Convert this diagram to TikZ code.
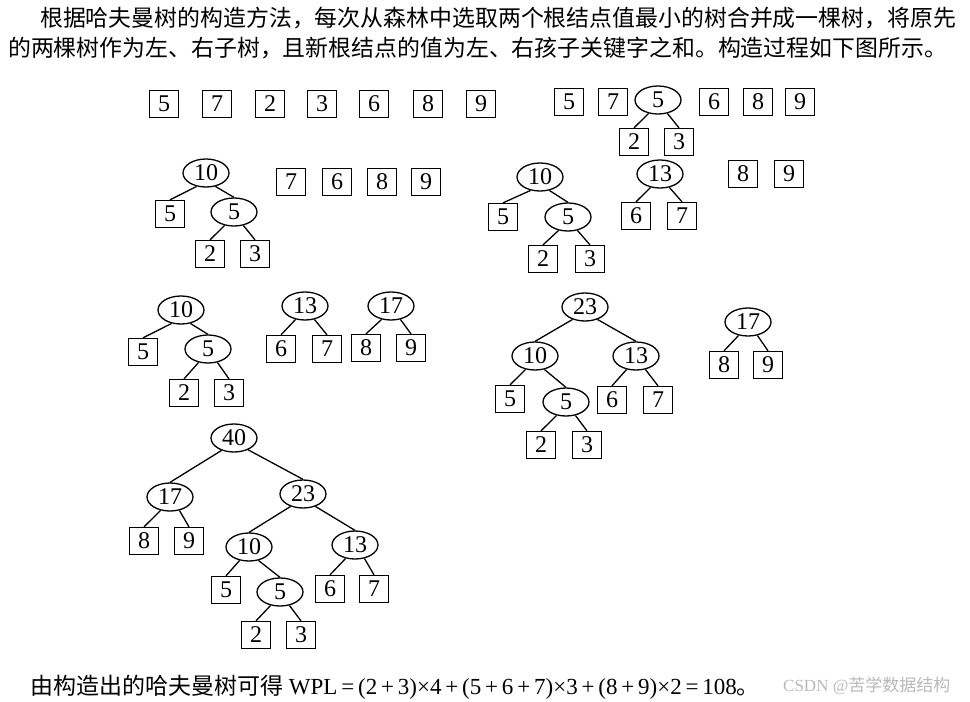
\documentclass[tikz,border=0pt]{standalone}
\usepackage{fontspec}
\usetikzlibrary{shapes.geometric}
\setmainfont{Liberation Serif}
\newfontfamily\cjk{Noto Sans CJK SC}
\begin{document}
\begin{tikzpicture}[x=1pt,y=-1pt,
  bx/.style={draw,line width=1.3pt,minimum width=29pt,minimum height=27pt,inner sep=0pt,font=\fontsize{24}{24}\selectfont},
  el/.style={draw,line width=1.3pt,ellipse,minimum width=46pt,minimum height=28pt,inner sep=0pt,font=\fontsize{24}{24}\selectfont},
  ed/.style={line width=1.3pt},
  txt/.style={anchor=west,inner sep=0pt,font=\fontsize{22.9}{24}\selectfont}]
\useasboundingbox (0,0) rectangle (970,702);
\node[txt] (t1) at (40,18) {\cjk 根据哈夫曼树的构造方法，每次从森林中选取两个根结点值最小的树合并成一棵树，将原先};
\node[txt] (t2) at (8,48) {\cjk 的两棵树作为左、右子树，且新根结点的值为左、右孩子关键字之和。构造过程如下图所示。};
\node[txt,font=\fontsize{23}{24}\selectfont] (t3) at (30,687) {{\cjk 由构造出的哈夫曼树可得} WPL\,=\,(2\,+\,3)×4\,+\,(5\,+\,6\,+\,7)×3\,+\,(8\,+\,9)×2\,=\,108{\cjk 。}};
\node[anchor=west,inner sep=0pt,text=gray!55,font=\fontsize{17}{18}\selectfont] (wm) at (783,686) {CSDN @{\cjk 苦学数据结构}};
% A
\foreach \x/\v [count=\i] in {164/5,217/7,270/2,322/3,374/6,428/8,481/9}
  \node[bx] (a\i) at (\x,104) {\v};
% B
\node[bx] (b1) at (569,102) {5};
\node[bx] (b2) at (613,102) {7};
\node[el] (b3) at (658,100) {5};
\node[bx] (b4) at (634,142) {2};
\node[bx] (b5) at (679,142) {3};
\node[bx] (b6) at (714,102) {6};
\node[bx] (b7) at (758,102) {8};
\node[bx] (b8) at (800,102) {9};
\draw[ed] (b3.-125)--(b4.north) (b3.-55)--(b5.north);
% C
\node[el] (c1) at (206,173) {10};
\node[bx] (c2) at (170,214) {5};
\node[el] (c3) at (234,212) {5};
\node[bx] (c4) at (210,254) {2};
\node[bx] (c5) at (255,254) {3};
\foreach \x/\v [count=\i] in {291/7,337/6,382/8,426/9}
  \node[bx] (cc\i) at (\x,182) {\v};
\draw[ed] (c1.-125)--(c2.north) (c1.-55)--(c3.north) (c3.-125)--(c4.north) (c3.-55)--(c5.north);
% D
\node[el] (d1) at (540,177) {10};
\node[bx] (d2) at (503,217) {5};
\node[el] (d3) at (568,217) {5};
\node[bx] (d4) at (543,259) {2};
\node[bx] (d5) at (590,259) {3};
\node[el] (d6) at (660,174) {13};
\node[bx] (d7) at (636,216) {6};
\node[bx] (d8) at (682,216) {7};
\node[bx] (d9) at (743,174) {8};
\node[bx] (d10) at (789,174) {9};
\draw[ed] (d1.-125)--(d2.north) (d1.-55)--(d3.north) (d3.-125)--(d4.north) (d3.-55)--(d5.north)
  (d6.-125)--(d7.north) (d6.-55)--(d8.north);
% E
\node[el] (e1) at (181,310) {10};
\node[bx] (e2) at (143,352) {5};
\node[el] (e3) at (208,349) {5};
\node[bx] (e4) at (184,393) {2};
\node[bx] (e5) at (229,393) {3};
\node[el] (e6) at (305,306) {13};
\node[bx] (e7) at (281,349) {6};
\node[bx] (e8) at (327,349) {7};
\node[el] (e9) at (391,306) {17};
\node[bx] (e10) at (366,348) {8};
\node[bx] (e11) at (411,348) {9};
\draw[ed] (e1.-125)--(e2.north) (e1.-55)--(e3.north) (e3.-125)--(e4.north) (e3.-55)--(e5.north)
  (e6.-125)--(e7.north) (e6.-55)--(e8.north) (e9.-125)--(e10.north) (e9.-55)--(e11.north);
% F
\node[el] (f1) at (585,307) {23};
\node[el] (f2) at (535,356) {10};
\node[el] (f3) at (636,356) {13};
\node[bx] (f4) at (510,399) {5};
\node[el] (f5) at (566,402) {5};
\node[bx] (f6) at (541,445) {2};
\node[bx] (f7) at (587,445) {3};
\node[bx] (f8) at (612,400) {6};
\node[bx] (f9) at (658,400) {7};
\node[el] (f10) at (748,322) {17};
\node[bx] (f11) at (724,365) {8};
\node[bx] (f12) at (768,365) {9};
\draw[ed] (f1.-135)--(f2.north) (f1.-45)--(f3.north) (f2.-125)--(f4.north) (f2.-55)--(f5.north)
  (f5.-125)--(f6.north) (f5.-55)--(f7.north) (f3.-125)--(f8.north) (f3.-55)--(f9.north)
  (f10.-125)--(f11.north) (f10.-55)--(f12.north);
% G
\node[el] (g1) at (234,438) {40};
\node[el] (g2) at (170,497) {17};
\node[el] (g3) at (303,494) {23};
\node[bx] (g4) at (144,541) {8};
\node[bx] (g5) at (189,541) {9};
\node[el] (g6) at (249,547) {10};
\node[el] (g7) at (355,545) {13};
\node[bx] (g8) at (226,590) {5};
\node[el] (g9) at (280,592) {5};
\node[bx] (g10) at (330,589) {6};
\node[bx] (g11) at (374,589) {7};
\node[bx] (g12) at (256,635) {2};
\node[bx] (g13) at (301,635) {3};
\draw[ed] (g1.-135)--(g2.north) (g1.-40)--(g3.north) (g2.-125)--(g4.north) (g2.-55)--(g5.north)
  (g3.-135)--(g6.north) (g3.-45)--(g7.north) (g6.-125)--(g8.north) (g6.-55)--(g9.north)
  (g7.-125)--(g10.north) (g7.-55)--(g11.north) (g9.-125)--(g12.north) (g9.-55)--(g13.north);
\end{tikzpicture}
\end{document}
